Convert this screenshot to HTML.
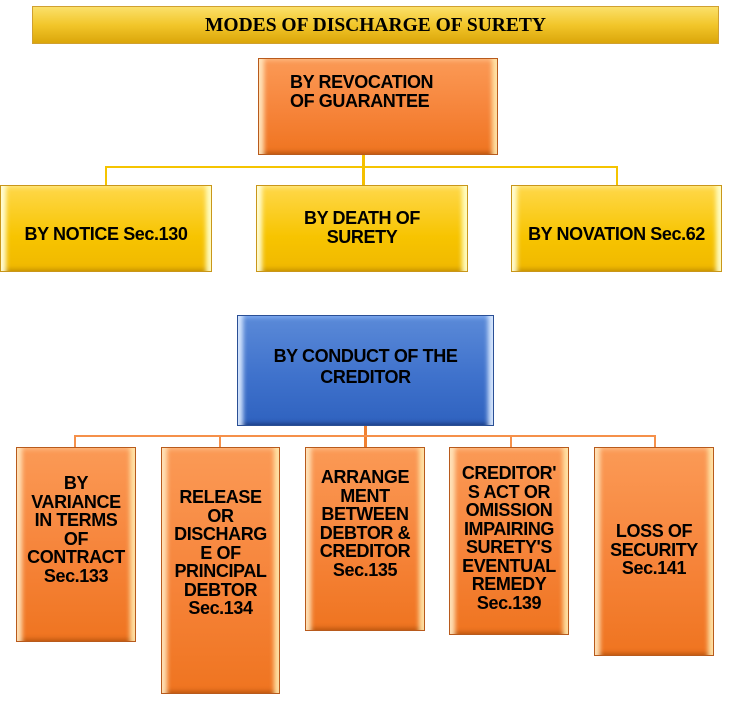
<!DOCTYPE html>
<html><head><meta charset="utf-8"><style>
body{margin:0;width:737px;height:707px;background:#fff;position:relative;overflow:hidden;font-family:"Liberation Sans",Arial,sans-serif;}
.b{position:absolute;box-sizing:border-box;}
.y{background:linear-gradient(#ffd84a,#f7c400 60%,#f0b800);border:1px solid #c9961a;box-shadow:inset 11px 0 5px -6px rgba(255,255,220,.95),inset -11px 0 5px -6px rgba(255,255,200,.95),inset 0 -5px 4px -3px rgba(160,110,0,.5),inset 0 5px 4px -3px rgba(255,240,160,.6);}
.o{background:linear-gradient(#fb9a56,#f6843a 55%,#ef7420);border:1px solid #b85a1c;box-shadow:inset 11px 0 5px -6px rgba(255,230,190,.95),inset -11px 0 5px -6px rgba(255,230,170,.95),inset 0 -5px 4px -3px rgba(140,60,0,.5),inset 0 5px 4px -3px rgba(255,200,150,.6);}
.bl{background:linear-gradient(#5b8ad8,#3f72cc 55%,#2f62bf);border:1px solid #2a4f95;box-shadow:inset 11px 0 5px -6px rgba(220,235,255,.95),inset -11px 0 5px -6px rgba(220,235,255,.95),inset 0 -5px 4px -3px rgba(10,30,80,.5),inset 0 5px 4px -3px rgba(150,190,255,.6);}
.t{position:absolute;left:-10px;right:-10px;text-align:center;font-weight:bold;font-size:18px;line-height:18.5px;color:#000;letter-spacing:-0.4px;white-space:nowrap;}
.l{position:absolute;}
</style></head><body>
<div class="b" style="left:32px;top:6px;width:687px;height:38px;background:linear-gradient(#fbe06a,#f2c62a 50%,#dba60a);border:1px solid #d0a030;">
<div style="position:absolute;left:0;right:0;top:8px;text-align:center;font-family:'Liberation Serif',serif;font-weight:bold;font-size:19.5px;">MODES OF DISCHARGE OF SURETY</div></div>

<div class="l" style="left:362px;top:154px;width:3px;height:31px;background:#f5c000"></div>
<div class="l" style="left:105px;top:166px;width:513px;height:2px;background:#f5c400"></div>
<div class="l" style="left:105px;top:166px;width:2px;height:19px;background:#f5c400"></div>
<div class="l" style="left:616px;top:166px;width:2px;height:19px;background:#f5c400"></div>

<div class="b o" style="left:258px;top:58px;width:240px;height:97px;"><div class="t" style="top:14px;text-align:left;left:31px;">BY REVOCATION<br>OF GUARANTEE</div></div>

<div class="b y" style="left:0;top:185px;width:212px;height:87px;"><div class="t" style="top:39px;">BY NOTICE Sec.130</div></div>
<div class="b y" style="left:256px;top:185px;width:212px;height:87px;"><div class="t" style="top:23px;">BY DEATH OF<br>SURETY</div></div>
<div class="b y" style="left:511px;top:185px;width:211px;height:87px;"><div class="t" style="top:39px;">BY NOVATION Sec.62</div></div>

<div class="l" style="left:364px;top:425px;width:3px;height:22px;background:#f08030"></div>
<div class="l" style="left:74px;top:435px;width:582px;height:2px;background:#f5904a"></div>
<div class="l" style="left:74px;top:435px;width:2px;height:12px;background:#f5904a"></div>
<div class="l" style="left:219px;top:435px;width:2px;height:12px;background:#f5904a"></div>
<div class="l" style="left:510px;top:435px;width:2px;height:12px;background:#f5904a"></div>
<div class="l" style="left:654px;top:435px;width:2px;height:12px;background:#f5904a"></div>

<div class="b bl" style="left:237px;top:315px;width:257px;height:111px;"><div class="t" style="top:30px;line-height:21px;">BY CONDUCT OF THE<br>CREDITOR</div></div>

<div class="b o" style="left:16px;top:447px;width:120px;height:195px;"><div class="t" style="top:26px;">BY<br>VARIANCE<br>IN TERMS<br>OF<br>CONTRACT<br>Sec.133</div></div>
<div class="b o" style="left:161px;top:447px;width:119px;height:247px;"><div class="t" style="top:40px;">RELEASE<br>OR<br>DISCHARG<br>E OF<br>PRINCIPAL<br>DEBTOR<br>Sec.134</div></div>
<div class="b o" style="left:305px;top:447px;width:120px;height:184px;"><div class="t" style="top:20px;">ARRANGE<br>MENT<br>BETWEEN<br>DEBTOR &amp;<br>CREDITOR<br>Sec.135</div></div>
<div class="b o" style="left:449px;top:447px;width:120px;height:188px;"><div class="t" style="top:16px;">CREDITOR'<br>S ACT OR<br>OMISSION<br>IMPAIRING<br>SURETY'S<br>EVENTUAL<br>REMEDY<br>Sec.139</div></div>
<div class="b o" style="left:594px;top:447px;width:120px;height:209px;"><div class="t" style="top:74px;">LOSS OF<br>SECURITY<br>Sec.141</div></div>
</body></html>
